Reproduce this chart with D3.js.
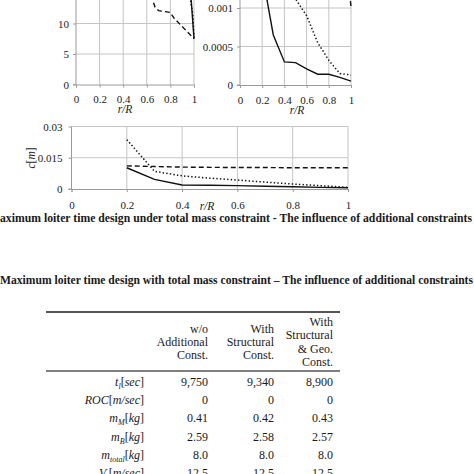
<!DOCTYPE html>
<html>
<head>
<meta charset="utf-8">
<script src="https://cdn.jsdelivr.net/npm/d3@7"></script>
<style>
body { margin: 0; background: #fff; }
svg { display: block; }
text { font-family: "Liberation Serif", "DejaVu Serif", serif; fill: #1a1a1a; }
</style>
</head>
<body>
<script>
// ---- data ----
var rTicks = [0, 0.2, 0.4, 0.6, 0.8, 1];

// top-left panel
var leftYTicks = [0, 5, 10];
var leftSolidX = [0.97, 1];
var leftSolidY = [15.5, 7.5];
var leftDashX = [0.64, 0.65, 0.67, 0.7, 0.77, 0.8, 0.83, 1];
var leftDashY = [16, 13.8, 12.7, 12.1, 11.9, 11.8, 10.9, 7.5];
var leftDotX = [0.955, 0.99, 1];
var leftDotY = [15.5, 11.5, 7.6];

// top-middle panel
var midYTicks = [0, 0.0005, 0.001];
var midSolidX = [0.2, 0.3, 0.4, 0.5, 0.6, 0.7, 0.8, 0.9, 1];
var midSolidY = [0.00145, 0.00065, 0.0003, 0.00029, 0.00021, 0.00014, 0.00014, 0.0001, 0.00005];
var midDotX = [0.4, 0.5, 0.6, 0.7, 0.8, 0.9, 1];
var midDotY = [0.0016, 0.00112, 0.0009, 0.00055, 0.00032, 0.00015, 0.00013];
var midDashX = [0.97, 1];
var midDashY = [0.0014, 0.00102];

// bottom panel, c[m]
var botYTicks = [0, 0.015, 0.03];
var botX = [0.2, 0.3, 0.4, 0.5, 0.6, 0.7, 0.8, 0.9, 1];
var botSolid = [0.0102, 0.0046, 0.0019, 0.0018, 0.0016, 0.0013, 0.0011, 0.0008, 0.0006];
var botDash = [0.0111, 0.0108, 0.0105, 0.0104, 0.0103, 0.0103, 0.0102, 0.0102, 0.0102];
var botDot = [0.0237, 0.0085, 0.0063, 0.0052, 0.0043, 0.0033, 0.0024, 0.0016, 0.0008];

// table
var colHeads = [["w/o", "Additional", "Const."], ["With", "Structural", "Const."], ["With", "Structural", "& Geo.", "Const."]];
var rowSym = ["t", "ROC", "m", "m", "m", "V"];
var rowSub = ["l", "", "M", "B", "total", "l"];
var rowUnit = ["sec", "m/sec", "kg", "kg", "kg", "m/sec"];
var colNoAdd = ["9,750", "0", "0.41", "2.59", "8.0", "12.5"];
var colStruct = ["9,340", "0", "0.42", "2.58", "8.0", "12.5"];
var colGeo = ["8,900", "0", "0.43", "2.57", "8.0", "12.5"];

var caption1 = "aximum loiter time design under total mass constraint  - The influence of additional constraints";
var caption2 = "Maximum loiter time design with total mass constraint \u2013 The influence of additional constraints";

// ---- drawing ----
var svg = d3.select("body").append("svg").attr("width", 474).attr("height", 474);
svg.append("rect").attr("width", 474).attr("height", 474).attr("fill", "#fff");

var styles = {
  solid: { dash: null, w: 1.4 },
  dash: { dash: "5,3", w: 1.4 },
  dot: { dash: "1.4,2.2", w: 1.5 }
};

function panel(p) {
  var x = d3.scaleLinear().domain([0, 1]).range([p.x0, p.x1]);
  var y = d3.scaleLinear().domain([0, p.yMax]).range([p.y0, p.y1]);
  var g = svg.append("g");

  g.selectAll(null).data(rTicks.slice(1)).enter().append("line")
    .attr("x1", d => x(d)).attr("x2", d => x(d))
    .attr("y1", p.y0).attr("y2", p.y1)
    .attr("stroke", "#c4c4c4").attr("stroke-width", 1);
  g.selectAll(null).data(p.yTicks.slice(1)).enter().append("line")
    .attr("x1", p.x0).attr("x2", p.x1)
    .attr("y1", d => y(d)).attr("y2", d => y(d))
    .attr("stroke", "#c4c4c4").attr("stroke-width", 1);

  var fmt = d3.format("~g");
  var ax = g.append("g").attr("transform", "translate(0," + p.y0 + ")")
    .call(d3.axisBottom(x).tickValues(rTicks).tickSize(3).tickPadding(p.xPad).tickFormat(fmt));
  var ay = g.append("g").attr("transform", "translate(" + p.x0 + ",0)")
    .call(d3.axisLeft(y).tickValues(p.yTicks).tickSize(3).tickPadding(p.yPad).tickFormat(fmt));
  ay.select(".domain").attr("d", "M-3," + p.y0 + "H0V" + Math.max(p.y1, -2));
  [ax, ay].forEach(function (a) {
    a.attr("font-family", null);
    a.select(".domain").attr("stroke", "#9a9a9a");
    a.selectAll(".tick line").attr("stroke", "#9a9a9a");
    a.selectAll("text").attr("font-size", 11).attr("fill", "#1a1a1a");
  });

  var line = d3.line().x(d => x(d[0])).y(d => y(d[1]));
  p.series.forEach(function (s) {
    var st = styles[s.kind];
    g.append("path").datum(d3.zip(s.x, s.y)).attr("d", line)
      .attr("fill", "none").attr("stroke", "#111")
      .attr("stroke-width", st.w)
      .attr("stroke-dasharray", st.dash);
  });

  g.append("text").attr("x", p.tx).attr("y", p.ty)
    .attr("text-anchor", "middle").attr("font-size", 11.5)
    .attr("font-style", "italic").text("r/R");
}

panel({
  x0: 76, x1: 194, y0: 84.5, y1: -7, yMax: 15, yTicks: leftYTicks,
  xPad: 8, yPad: 4, tx: 125, ty: 113,
  series: [
    { kind: "dash", x: leftDashX, y: leftDashY },
    { kind: "dot", x: leftDotX, y: leftDotY },
    { kind: "solid", x: leftSolidX, y: leftSolidY }
  ]
});

panel({
  x0: 240, x1: 351, y0: 85, y1: -30.5, yMax: 0.0015, yTicks: midYTicks,
  xPad: 8, yPad: 4, tx: 297, ty: 114,
  series: [
    { kind: "dash", x: midDashX, y: midDashY },
    { kind: "dot", x: midDotX, y: midDotY },
    { kind: "solid", x: midSolidX, y: midSolidY }
  ]
});

panel({
  x0: 71.5, x1: 348, y0: 189, y1: 126.5, yMax: 0.03, yTicks: botYTicks,
  xPad: 9, yPad: 6, tx: 207, ty: 210,
  series: [
    { kind: "dash", x: botX, y: botDash },
    { kind: "dot", x: botX, y: botDot },
    { kind: "solid", x: botX, y: botSolid }
  ]
});

// c[m] axis title
var ct = svg.append("text").attr("transform", "translate(35,158) rotate(-90)")
  .attr("text-anchor", "middle").attr("font-size", 11.5);
ct.append("tspan").attr("font-style", "italic").text("c");
ct.append("tspan").text("[");
ct.append("tspan").attr("font-style", "italic").text("m");
ct.append("tspan").text("]");

// captions
svg.append("text").attr("x", 0).attr("y", 222).attr("font-size", 12.5)
  .attr("font-weight", "bold").attr("textLength", 472).attr("lengthAdjust", "spacingAndGlyphs")
  .text(caption1);
svg.append("text").attr("x", 0).attr("y", 284).attr("font-size", 12.5)
  .attr("font-weight", "bold").attr("textLength", 473).attr("lengthAdjust", "spacingAndGlyphs")
  .text(caption2);

// table rules
svg.append("line").attr("x1", 46).attr("x2", 340).attr("y1", 312).attr("y2", 312)
  .attr("stroke", "#555").attr("stroke-width", 2);
svg.append("line").attr("x1", 46).attr("x2", 340).attr("y1", 371).attr("y2", 371)
  .attr("stroke", "#555").attr("stroke-width", 1.3);

var colX = [208, 274, 333];
var headMid = 342;
colHeads.forEach(function (lines, i) {
  var top = headMid - (lines.length - 1) * 13.4 / 2;
  lines.forEach(function (s, j) {
    svg.append("text").attr("x", colX[i]).attr("y", top + j * 13.4 + 4)
      .attr("text-anchor", "end").attr("font-size", 12).text(s);
  });
});

var rowY = d3.range(rowSym.length).map(function (i) { return 386 + i * 18.2; });
rowSym.forEach(function (s, i) {
  var t = svg.append("text").attr("x", 144).attr("y", rowY[i])
    .attr("text-anchor", "end").attr("font-size", 12);
  t.append("tspan").attr("font-style", "italic").text(s);
  if (rowSub[i]) {
    t.append("tspan").attr("font-style", "italic").attr("font-size", 8)
      .attr("dy", 3).text(rowSub[i]);
    t.append("tspan").attr("dy", -3).text("[");
  } else {
    t.append("tspan").text("[");
  }
  t.append("tspan").attr("font-style", "italic").text(rowUnit[i]);
  t.append("tspan").text("]");
});

[colNoAdd, colStruct, colGeo].forEach(function (col, c) {
  col.forEach(function (v, i) {
    svg.append("text").attr("x", colX[c]).attr("y", rowY[i])
      .attr("text-anchor", "end").attr("font-size", 12).text(v);
  });
});
</script>
</body>
</html>
